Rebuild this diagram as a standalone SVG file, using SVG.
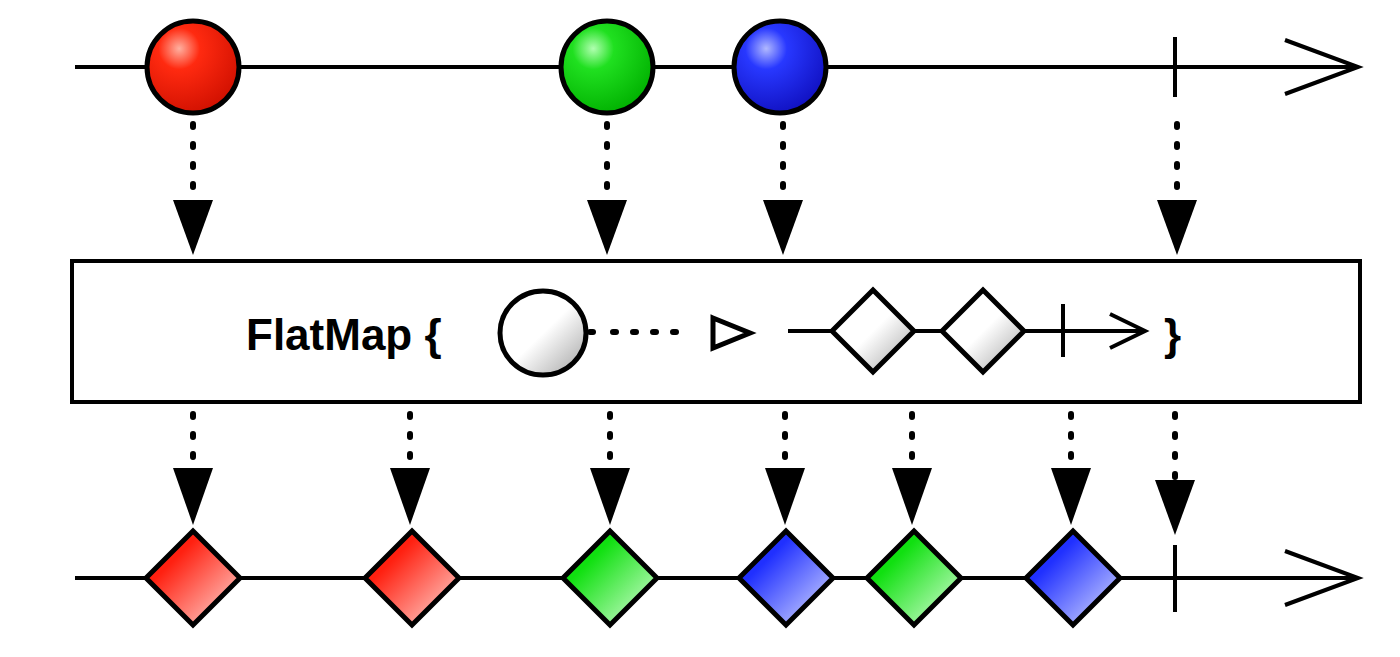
<svg xmlns="http://www.w3.org/2000/svg" width="1400" height="657" viewBox="0 0 1400 657">
<defs>
<radialGradient id="gr" cx="0.35" cy="0.3" r="0.75"><stop offset="0" stop-color="#ffb0a0"/><stop offset="0.3" stop-color="#ff2a10"/><stop offset="1" stop-color="#d01000"/></radialGradient>
<radialGradient id="gg" cx="0.35" cy="0.3" r="0.75"><stop offset="0" stop-color="#b0ffb0"/><stop offset="0.3" stop-color="#20e020"/><stop offset="1" stop-color="#00b000"/></radialGradient>
<radialGradient id="gb" cx="0.35" cy="0.3" r="0.75"><stop offset="0" stop-color="#b0b8ff"/><stop offset="0.3" stop-color="#2838ff"/><stop offset="1" stop-color="#1010c0"/></radialGradient>
<linearGradient id="dr" x1="0" y1="0" x2="1" y2="1"><stop offset="0.3" stop-color="#ff2010"/><stop offset="1" stop-color="#ffe0dc"/></linearGradient>
<linearGradient id="dg" x1="0" y1="0" x2="1" y2="1"><stop offset="0.3" stop-color="#10e010"/><stop offset="1" stop-color="#e0ffe0"/></linearGradient>
<linearGradient id="db" x1="0" y1="0" x2="1" y2="1"><stop offset="0.3" stop-color="#2030ff"/><stop offset="1" stop-color="#e0e4ff"/></linearGradient>
<linearGradient id="dw" x1="0" y1="0" x2="1" y2="1"><stop offset="0.5" stop-color="#fff"/><stop offset="1" stop-color="#a0a0a0"/></linearGradient>
</defs>
<style>
.ln{stroke:#000;stroke-width:4;fill:none}
.dot{stroke:#000;stroke-width:6;stroke-linecap:round;stroke-dasharray:3 17;fill:none}
.m{stroke:#000;stroke-width:5}
text{font-family:"Liberation Sans",Arial,sans-serif;font-weight:bold;font-size:44px}
</style>
<g id="connectors">
<line class="ln" x1="75" y1="67" x2="1358" y2="67"/>
<polyline class="ln" points="1285,40 1358,67 1285,94" stroke-width="5"/>
<line class="ln" x1="75" y1="578" x2="1358" y2="578"/>
<polyline class="ln" points="1285,551 1358,578 1285,605" stroke-width="5"/>
<g id="top-arrows">
<line class="dot" x1="193" y1="124" x2="193" y2="200"/><polygon points="173,200 213,200 193,255"/>
<line class="dot" x1="607" y1="124" x2="607" y2="200"/><polygon points="587,200 627,200 607,255"/>
<line class="dot" x1="783" y1="124" x2="783" y2="200"/><polygon points="763,200 803,200 783,255"/>
<line class="dot" x1="1177" y1="124" x2="1177" y2="200"/><polygon points="1157,200 1197,200 1177,255"/>
</g>
<g id="bottom-arrows">
<line class="dot" x1="193" y1="414" x2="193" y2="468"/><polygon points="173,468 213,468 193,525"/>
<line class="dot" x1="410" y1="414" x2="410" y2="468"/><polygon points="390,468 430,468 410,525"/>
<line class="dot" x1="610" y1="414" x2="610" y2="468"/><polygon points="590,468 630,468 610,525"/>
<line class="dot" x1="785" y1="414" x2="785" y2="468"/><polygon points="765,468 805,468 785,525"/>
<line class="dot" x1="912" y1="414" x2="912" y2="468"/><polygon points="892,468 932,468 912,525"/>
<line class="dot" x1="1071" y1="414" x2="1071" y2="468"/><polygon points="1051,468 1091,468 1071,525"/>
<line class="dot" x1="1175" y1="414" x2="1175" y2="480"/><polygon points="1155,480 1195,480 1175,535"/>
</g>
</g>
<g id="top-red"><circle cx="193" cy="67" r="46" fill="url(#gr)" class="m"/></g>
<g id="top-green"><circle cx="607" cy="67" r="46" fill="url(#gg)" class="m"/></g>
<g id="top-blue"><circle cx="780" cy="67" r="46" fill="url(#gb)" class="m"/></g>
<g id="top-end"><line class="ln" x1="1175" y1="37" x2="1175" y2="97" stroke-width="5"/></g>
<g id="flatmap">
<rect x="72" y="261" width="1288" height="141" fill="#fff" stroke="#000" stroke-width="4"/>
<text x="246" y="350">FlatMap {</text>
<ellipse cx="543" cy="333" rx="43" ry="42" class="m" style="fill:url(#dw)"/>
<line class="dot" x1="590" y1="332" x2="600" y2="332" stroke-dasharray="none" stroke-linecap="butt"/>
<line class="dot" x1="613" y1="332" x2="690" y2="332" stroke-dasharray="3 22"/>
<polygon points="713,318 750,333 713,348" fill="#fff" class="m" stroke-width="5"/>
<line class="ln" x1="788" y1="331" x2="1145" y2="331" stroke-width="5"/>
<polygon points="873,290 914,331 873,372 832,331" fill="url(#dw)" class="m"/>
<polygon points="983,290 1024,331 983,372 942,331" fill="url(#dw)" class="m"/>
<line class="ln" x1="1063" y1="304" x2="1063" y2="357" stroke-width="5"/>
<polyline class="ln" points="1110,314 1145,331 1110,348" stroke-width="5"/>
<text x="1164" y="350">}</text>
</g>
<g id="out1"><polygon points="193,531 240,578 193,625 146,578" fill="url(#dr)" class="m"/></g>
<g id="out2"><polygon points="412,531 459,578 412,625 365,578" fill="url(#dr)" class="m"/></g>
<g id="out3"><polygon points="610,531 657,578 610,625 563,578" fill="url(#dg)" class="m"/></g>
<g id="out4"><polygon points="786,531 833,578 786,625 739,578" fill="url(#db)" class="m"/></g>
<g id="out5"><polygon points="914,531 961,578 914,625 867,578" fill="url(#dg)" class="m"/></g>
<g id="out6"><polygon points="1073,531 1120,578 1073,625 1026,578" fill="url(#db)" class="m"/></g>
<g id="bottom-end"><line class="ln" x1="1175" y1="545" x2="1175" y2="612" stroke-width="5"/></g>
</svg>
